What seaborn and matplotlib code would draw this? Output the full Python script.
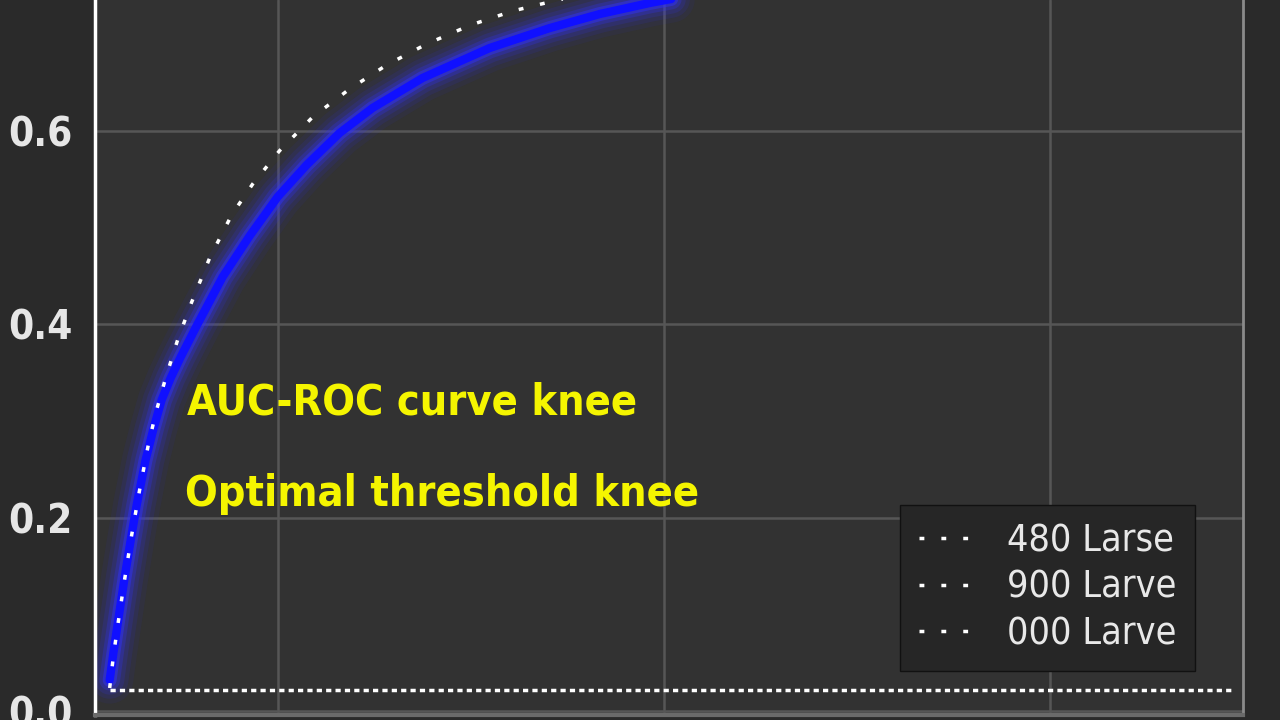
import matplotlib
matplotlib.use("Agg")
import matplotlib.pyplot as plt
import seaborn as sns
from matplotlib.lines import Line2D

# knee curve (blue, glowing)
roc_x = [0.1128, 0.1148, 0.1174, 0.1205, 0.1237, 0.1268, 0.1314, 0.1356, 0.1397,
         0.1444, 0.1496, 0.1578, 0.1713, 0.1853, 0.1998, 0.2148, 0.2319, 0.2490,
         0.2749, 0.3097, 0.3408, 0.3667, 0.3926, 0.4288, 0.4807]
roc_y = [0.0320, 0.0610, 0.0961, 0.1375, 0.1767, 0.2129, 0.2594, 0.2925, 0.3214,
         0.3442, 0.3659, 0.3979, 0.4486, 0.4910, 0.5313, 0.5643, 0.5974, 0.6233,
         0.6543, 0.6853, 0.7059, 0.7204, 0.7318, 0.7452, 0.7607]

# threshold curve (white dotted)
thr_x = [0.1128, 0.1148, 0.1174, 0.1205, 0.1242, 0.1283, 0.1330, 0.1371, 0.1418,
         0.1480, 0.1553, 0.1646, 0.1760, 0.1869, 0.2009, 0.2180, 0.2371, 0.2563,
         0.2770, 0.2998, 0.3216, 0.3449, 0.3770]
thr_y = [0.0238, 0.0579, 0.0941, 0.1354, 0.1819, 0.2284, 0.2770, 0.3111, 0.3442,
         0.3835, 0.4227, 0.4682, 0.5127, 0.5447, 0.5793, 0.6140, 0.6429, 0.6677,
         0.6894, 0.7090, 0.7235, 0.7349, 0.7473]

# baseline (white dotted)
base_x = [0.1128, 0.6957]
base_y = [0.0217, 0.0217]

legend_labels = ["480 Larse", "900 Larve", "000 Larve"]
y_ticks = [0.0, 0.2, 0.4, 0.6]
x_grid = [0.2, 0.4, 0.6]
notes = ["AUC-ROC curve knee", "Optimal threshold knee"]

sns.set_style("dark", {"axes.facecolor": "#323232", "figure.facecolor": "#2a2a2a"})
plt.rcParams["font.family"] = ["DejaVu Sans"]

fig = plt.figure(figsize=(12.8, 7.2), dpi=100)
ax = fig.add_axes([95 / 1280, 5 / 720, 1148 / 1280, 715 / 720])

# glow around the blue curve
for lw, a in [(34, 0.06), (27, 0.1), (21, 0.15), (15, 0.25), (10, 0.45)]:
    sns.lineplot(x=roc_x, y=roc_y, sort=False, estimator=None, color="#3030ff",
                 lw=lw, alpha=a, ax=ax, solid_capstyle="round", solid_joinstyle="round")
sns.lineplot(x=roc_x, y=roc_y, sort=False, estimator=None, color="#1010ff",
             lw=6, ax=ax, solid_capstyle="round", solid_joinstyle="round")

dot = (0, (1.4, 4.9))
sns.lineplot(x=thr_x, y=thr_y, sort=False, estimator=None, color="white",
             lw=2.5, linestyle=dot, ax=ax)
sns.lineplot(x=base_x, y=base_y, sort=False, estimator=None, color="white",
             lw=2.5, linestyle=(0, (1.5, 1.2)), ax=ax)

ax.text(0.1527, 0.319, notes[0], color="#f5f500", fontsize=31, fontweight="bold",
        fontstretch="condensed", va="center", ha="left")
ax.text(0.1516, 0.224, notes[1], color="#f5f500", fontsize=31, fontweight="bold",
        fontstretch="condensed", va="center", ha="left")

ax.set_xlim(0.1052, 0.70)
ax.set_ylim(-0.0041, 0.7349)
ax.set_xticks(x_grid)
ax.set_xticklabels([])
ax.set_yticks(y_ticks)
ax.set_yticklabels([f"{v:.1f}" for v in y_ticks])
ax.tick_params(axis="both", length=0)
ax.tick_params(axis="y", pad=16, labelsize=29, labelcolor="#e6e6e6")
for lab in ax.get_yticklabels():
    lab.set_fontweight("bold")
    lab.set_fontstretch("condensed")
ax.grid(True, color="#565656", lw=1.8)
ax.set_xlabel("")
ax.set_ylabel("")

ax.spines["top"].set_visible(False)
ax.spines["left"].set_color("white")
ax.spines["left"].set_linewidth(2.5)
ax.spines["bottom"].set_color("#6a6a6a")
ax.spines["bottom"].set_linewidth(3)
ax.spines["right"].set_color("#8a8a8a")
ax.spines["right"].set_linewidth(2)

handles = [Line2D([], [], color="white", lw=2.5, linestyle=dot) for _ in legend_labels]
leg = ax.legend(handles, legend_labels, loc="lower right",
                bbox_to_anchor=(0.9582, 0.0615), borderaxespad=0,
                prop={"size": 27, "stretch": "condensed"},
                labelcolor="#e8e8e8", facecolor="#262626",
                edgecolor="#111111", framealpha=1, fancybox=False,
                handlelength=1.35, handletextpad=1.0, labelspacing=0.28,
                borderpad=0.5)

fig.savefig("out.png", dpi=100, facecolor=fig.get_facecolor())
